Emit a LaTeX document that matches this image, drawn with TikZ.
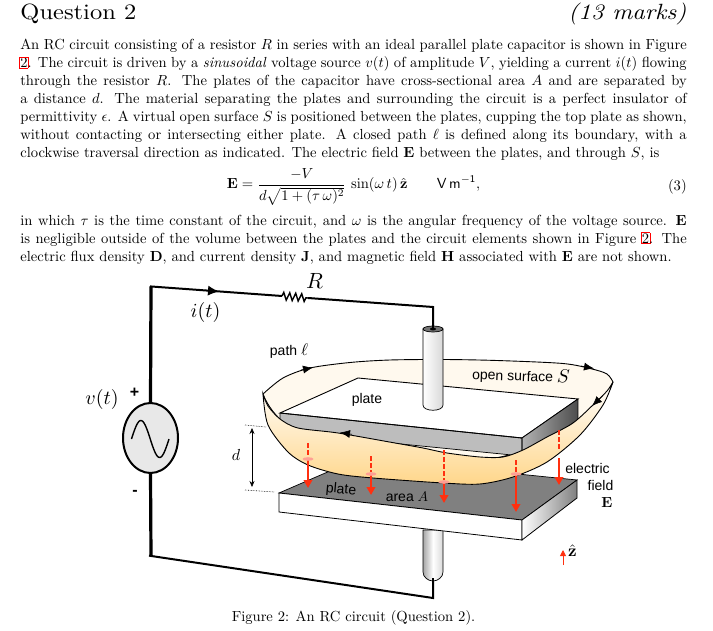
\documentclass[tikz,border=0pt]{standalone}
\usepackage[no-math]{fontspec}
\usepackage{amssymb}
\usepackage{amsmath}
\usepackage{tikz}
\usetikzlibrary{calc}
\usetikzlibrary{arrows.meta}
\usetikzlibrary{shapes.geometric}
\usetikzlibrary{decorations.pathmorphing}

\newfontfamily\labelfont{Liberation Sans}
\definecolor{fieldred}{HTML}{FF3010}
\definecolor{discpink}{HTML}{FF9F94}
\definecolor{bowlorange}{HTML}{FFD68A}
\definecolor{bowlmiddle}{HTML}{FFF6E2}
\definecolor{bowlcream}{HTML}{FFF9EE}
\definecolor{platetop}{HTML}{808080}
\definecolor{plateside}{HTML}{BDBDBD}

\newcommand{\figlink}{\makebox[5pt]{\setlength{\fboxsep}{0.2pt}\setlength{\fboxrule}{0.4pt}\fcolorbox{red}{white}{2}}}
\newcommand{\fullline}[1]{\makebox[456.5pt][s]{#1}}

\tikzset{
    bodytext/.style={scale=1.46, inner sep=0pt},
    parablock/.style={bodytext, anchor=north west, align=left, font=\fontsize{10}{12.33}\selectfont},
    sanslabel/.style={font=\labelfont, scale=1.4, inner sep=0pt},
    mathlabel/.style={scale=2, inner sep=0pt},
    wire/.style={line width=2pt},
    rimtip/.style={-{Latex[length=10pt, width=8pt]}, line width=0.6pt},
    fieldarrow/.style={fieldred, line width=2.4pt, -{Triangle[length=8pt, width=8.5pt]}},
    fieldstub/.style={fieldred, line width=2.4pt, dash pattern=on 4.5pt off 2.5pt}
}

\begin{document}
\begin{tikzpicture}[x=1pt, y=-1pt]
    \useasboundingbox (0,0) rectangle (713,631);

    % Draw the heading and the question text
    \node[bodytext, xscale=1.678, yscale=1.51, anchor=base west] (heading) at (20,20) {Question 2};
    \node[bodytext, xscale=1.678, yscale=1.51, anchor=base east] (marks) at (687,20) {\textit{(13 marks)}};

    \node[parablock] (parafirst) at (20,38.5)
        {\fullline{An RC circuit consisting of a resistor $R$ in series with an ideal parallel plate capacitor is shown in Figure}\\
        \fullline{\figlink. The circuit is driven by a \textit{sinusoidal} voltage source $v(t)$ of amplitude $V$, yielding a current $i(t)$ flowing}\\
        \fullline{through the resistor $R$. The plates of the capacitor have cross-sectional area $A$ and are separated by}\\
        \fullline{a distance $d$. The material separating the plates and surrounding the circuit is a perfect insulator of}\\
        \fullline{permittivity $\epsilon$. A virtual open surface $S$ is positioned between the plates, cupping the top plate as shown,}\\
        \fullline{without contacting or intersecting either plate. A closed path $\ell$ is defined along its boundary, with a}\\
        clockwise traversal direction as indicated. The electric field $\mathbf{E}$ between the plates, and through $S$, is};

    \node[bodytext] (equation) at (353.5,187)
        {$\displaystyle \mathbf{E} = \frac{-V}{d\sqrt{1+(\tau\,\omega)^2}}\,\sin(\omega\,t)\,\hat{\mathbf{z}} \qquad \mathsf{V\,m^{-1}},$};
    \node[bodytext, anchor=east] (eqnumber) at (687,187) {(3)};

    \node[parablock] (parasecond) at (20,214.5)
        {\fullline{in which $\tau$ is the time constant of the circuit, and $\omega$ is the angular frequency of the voltage source. $\mathbf{E}$}\\
        \fullline{is negligible outside of the volume between the plates and the circuit elements shown in Figure \figlink. The}\\
        electric flux density $\mathbf{D}$, and current density $\mathbf{J}$, and magnetic field $\mathbf{H}$ associated with $\mathbf{E}$ are not shown.};

    \node[bodytext] (caption) at (353.5,618) {Figure 2: An RC circuit (Question 2).};

    % Draw the circuit around the capacitor
    \node[draw, ellipse, line width=2pt, fill=black!9, inner sep=0pt, minimum width=55pt, minimum height=70pt] (source) at (150.5,438) {};
    \coordinate (topleft) at (151,286.5);
    \coordinate (resleft) at (282,296);
    \coordinate (resright) at (308,298);
    \coordinate (topbend) at (433,307);
    \coordinate (capin) at (433,330);
    \coordinate (bottomleft) at (151,556);
    \coordinate (bottombend) at (433,598);
    \coordinate (capout) at (433,578);

    \draw[line width=3.2pt] (source.north) -- (topleft);
    \draw[line width=3.2pt] (source.south) -- (bottomleft);
    \draw[wire] (150,286.4) -- (resleft);
    \draw[wire, line width=1.4pt, decorate, decoration={zigzag, segment length=6pt, amplitude=3.8pt}] (resleft) -- (resright);
    \draw[wire] (resright) -- (topbend) -- (capin);
    \draw[wire, line cap=rect] (150,555.8) -- (bottombend) -- (capout);
    \draw[-{Latex[length=11pt, width=10pt]}, line width=1pt] (205,290.4) -- (219,291.5);

    % The sine wave inside the source
    \draw[line width=1.4pt, domain=0:360, samples=40, smooth] plot ({131.5+\x/360*37.5}, {439-18.5*sin(\x)});

    \node[font=\labelfont\bfseries, scale=1.6, inner sep=0pt] (plus) at (134.5,393) {+};
    \node[font=\labelfont\bfseries, scale=1.6, inner sep=0pt] (minus) at (135,492.5) {-};
    \node[mathlabel] (vlabel) at (102,400) {$v(t)$};
    \node[mathlabel] (ilabel) at (205.5,313) {$i(t)$};
    \node[mathlabel, scale=1.1] (rlabel) at (314.5,281) {$R$};

    % Back part of the open surface and its rim
    \draw[fill=bowlcream, line width=0.9pt]
        plot[smooth] coordinates {(263,394) (283,378) (310,368) (350,362.5) (390,360) (443,359.5) (497,360.5) (563,363.5) (592,369) (607,374) (613,382)}
        .. controls (570,490) and (300,490) .. (263,394) -- cycle;

    % Draw the top plate
    \coordinate (backleft) at (358,378);
    \coordinate (backright) at (578,399);
    \coordinate (frontright) at (522,438);
    \coordinate (frontleft) at (280,413);
    \fill[plateside] (frontleft) -- (frontright) -- (522,456) -- (280,432) -- cycle;
    \draw[line width=0.7pt] (frontleft) -- (280,432) -- (522,456);
    \draw[line width=0.9pt, fill=white] (backleft) -- (backright) -- (frontright) -- (frontleft) -- cycle;
    \shade[left color=black!30, right color=black!70] (frontright) -- (backright) -- (578,420) -- (522,456) -- cycle;
    \draw[line width=0.8pt] (frontright) -- (backright) -- (578,420) -- (522,456) -- cycle;
    \draw[line width=0.8pt] (frontleft) -- (frontright) -- (522,456);

    % The upper lead of the capacitor
    \draw[left color=white, right color=black!15, line width=0.7pt]
        (423,329) -- (423,405) .. controls (423,412) and (443,412) .. (443,405) -- (443,329) -- cycle;
    \draw[fill=black!55, line width=0.7pt] (433,329) ellipse (10pt and 3pt);
    \fill (433,329) ellipse (3pt and 1.5pt);
    \draw[wire] (433,315) -- (433,329);

    % Draw the bottom plate with its lead
    \draw[left color=black!35, right color=black!15, middle color=white, line width=0.7pt]
        (423,530) -- (423,572) .. controls (423,577) and (428,581) .. (433,581)
        .. controls (438,581) and (443,577) .. (443,572) -- (443,530) -- cycle;
    \draw[wire] (433,581) -- (capout);
    \draw[fill=platetop, line width=0.7pt] (279,493) -- (360,458) -- (577,480) -- (522,520) -- cycle;
    \draw[fill=white, line width=0.8pt] (279,493) -- (522,520) -- (522,540) -- (279,512) -- cycle;
    \draw[left color=white, right color=black!50, line width=0.8pt] (522,520) -- (577,480) -- (577,498) -- (522,540) -- cycle;

    % Front part of the open surface, the rim runs in front of the plate
    \draw[top color=white, middle color=bowlmiddle, bottom color=bowlorange, line width=0.9pt]
        plot[smooth] coordinates {(263,394) (268,425) (288,452) (308,465) (338,474) (373,478) (443,483) (480,484) (513,477) (547,462) (580,435) (603,405) (613,382)}
        -- plot[smooth] coordinates {(613,382) (607,391) (595,403) (573,423) (547,437) (523,450) (503,457) (480,457) (447,453) (423,448) (395,443) (338,433) (298,428) (280,419) (268,406) (263,394)}
        -- cycle;

    % Arrow tips along the path
    \draw[rimtip] (301,370) -- (313,367.5);
    \draw[rimtip] (581,366) -- (594,368.5);
    \draw[rimtip] (603,395.5) -- (592,406);
    \draw[rimtip] (352,434.3) -- (340,432.5);

    % Draw the field arrows, each one as stub, disc and head
    \foreach \x/\ya/\yb/\yc in {308/443/459/488, 371/456/474/495, 444/450/482/503, 516/460/474/512}
    {
        \draw[fieldstub] (\x,\ya) -- (\x,\yb-2);
        \draw[fieldarrow] (\x,\yb) -- (\x,\yc);
        \fill[discpink] (\x,\yb) ellipse (5.5pt and 1.8pt);
    }
    \draw[fieldstub] (559,430) -- (559,449);
    \draw[fieldarrow] (559,458) -- (559,485);

    % Draw the plate distance
    \coordinate (gaptop) at (252,428);
    \coordinate (gapbottom) at (252,487);
    \draw[{Stealth[length=6pt, width=5pt]}-{Stealth[length=6pt, width=5pt]}, line width=0.6pt] (gaptop) -- (gapbottom);
    \draw[densely dotted, line width=0.6pt] (245,425) -- (266,427);
    \draw[densely dotted, line width=0.6pt] (245,490) -- (274,492);
    \node[mathlabel, scale=0.8] (dlabel) at (236,455) {$d$};

    % All the labels on the capacitor
    \node[sanslabel] (pathlabel) at (289,351.5) {path \scalebox{1.2}{$\ell$}};
    \node[sanslabel] (topplate) at (367,400) {plate};
    \node[sanslabel, rotate=-2] (surfacelabel) at (521,376) {open surface \scalebox{1.35}{$S$}};
    \node[sanslabel, rotate=-5] (bottomplate) at (341,490) {plate};
    \node[sanslabel] (arealabel) at (407,496.5) {area $A$};
    \node[sanslabel] (fieldtop) at (587.5,468) {electric};
    \node[sanslabel] (fieldmiddle) at (600.5,485) {field};
    \node[bodytext] (fieldbottom) at (607,502) {$\mathbf{E}$};

    % The direction of z
    \coordinate (ztail) at (563,565);
    \coordinate (zhead) at (563,550);
    \draw[fieldred, line width=0.9pt, -{Triangle[length=6pt, width=6pt]}] (ztail) -- (zhead);
    \node[bodytext, scale=1.15] (zlabel) at (572.5,551) {$\hat{\mathbf{z}}$};
\end{tikzpicture}
\end{document}
